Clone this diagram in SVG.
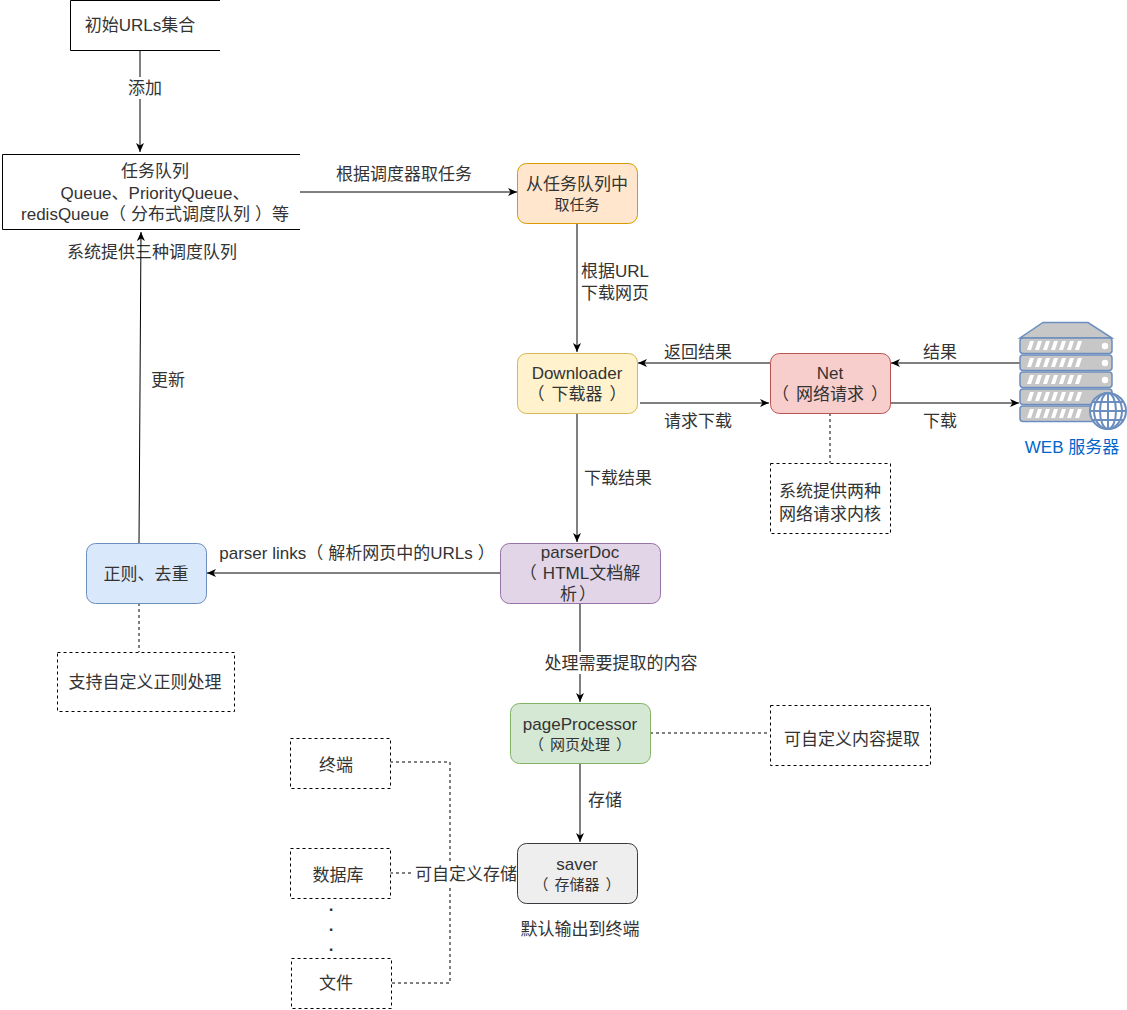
<svg xmlns="http://www.w3.org/2000/svg" width="1127" height="1010" viewBox="0 0 1127 1010">
<defs>
<marker id="arr" markerUnits="userSpaceOnUse" markerWidth="10" markerHeight="8" refX="9" refY="4" orient="auto">
<path d="M0,0 L9,4 L0,8 L2.5,4 Z" fill="#000"/>
</marker>
<style>
text{font-family:"Liberation Sans","Noto Sans CJK SC",sans-serif;font-size:17px;fill:#333;text-anchor:middle}
.sm{font-size:15px}
.ln{fill:none;stroke:#000;stroke-width:1}
.a{marker-end:url(#arr)}
.d{stroke-dasharray:3 3}
.box{stroke-width:1}
.dbox{fill:#fff;stroke:#000;stroke-width:1;stroke-dasharray:3 3}
.bg{fill:#fff}
.srv{fill:#c7c7c7;stroke:#6c8ebf;stroke-width:1.5}
.st{fill:#fff}
</style>
</defs>
<rect width="1127" height="1010" fill="#fff"/>

<g id="label-sys-queue"><text x="152" y="258">系统提供三种调度队列</text></g>

<g id="connectors">
<path class="ln a" d="M140,50 V152"/>
<path class="ln a" d="M300,192 H517"/>
<path class="ln a" d="M577,223 V352"/>
<path class="ln a" d="M770,363 H638"/>
<path class="ln a" d="M640,403 H769"/>
<path class="ln a" d="M1020,363 H891"/>
<path class="ln a" d="M890,403 H1019"/>
<path class="ln d" d="M830,413 V463"/>
<path class="ln a" d="M577,413 V542"/>
<path class="ln a" d="M500,573 H207"/>
<path class="ln a" d="M139,543 L141,232"/>
<path class="ln d" d="M139,603 V652"/>
<path class="ln a" d="M580,603 V702"/>
<path class="ln d" d="M650,733 H770"/>
<path class="ln a" d="M580,763 V842"/>
<path class="ln d" d="M390,762 H450 V983 H391"/>
<path class="ln d" d="M390,873 H517"/>
</g>

<g id="edge-labels">
<rect class="bg" x="125" y="77" width="40" height="22"/><text x="145" y="94">添加</text>
<text x="404" y="180">根据调度器取任务</text>
<text x="615" y="277">根据URL</text><text x="615" y="299">下载网页</text>
<text x="698" y="358">返回结果</text>
<text x="698" y="427">请求下载</text>
<text x="940" y="358">结果</text>
<text x="940" y="427">下载</text>
<text x="618" y="484">下载结果</text>
<text x="357" y="559">parser links（<tspan dx="5">解析网页中的URLs</tspan><tspan dx="5">）</tspan></text>
<text x="168" y="386">更新</text>
<rect class="bg" x="540" y="652" width="164" height="22"/><text x="621" y="669">处理需要提取的内容</text>
<text x="605" y="806">存储</text>
<rect class="bg" x="412" y="863" width="106" height="22"/><text x="466" y="880">可自定义存储</text>
</g>

<g id="node-init-urls">
<rect x="70" y="0" width="150" height="50" fill="#fff"/>
<path class="ln" d="M220,0.5 H70.5 V50.5 H220"/>
<text x="140" y="31">初始URLs集合</text>
</g>

<g id="node-task-queue">
<rect x="2" y="154" width="298" height="75" fill="#fff"/>
<path class="ln" d="M300,154.5 H2.5 V229.5 H300"/>
<text x="155" y="177">任务队列</text>
<text x="155" y="199">Queue、PriorityQueue、</text>
<text x="155" y="220">redisQueue（<tspan dx="5">分布式调度队列</tspan><tspan dx="5">）</tspan>等</text>
</g>

<g id="node-fetch">
<rect class="box" x="517.5" y="163.5" width="120" height="60" rx="9" fill="#ffe6cc" stroke="#d79b00"/>
<text x="577" y="190">从任务队列中</text>
<text class="sm" x="577" y="210">取任务</text>
</g>

<g id="node-downloader">
<rect class="box" x="517.5" y="353.5" width="120" height="60" rx="9" fill="#fff2cc" stroke="#d6b656"/>
<text x="577" y="379">Downloader</text>
<text x="577" y="400">（<tspan dx="7">下载器</tspan><tspan dx="7">）</tspan></text>
</g>

<g id="node-net">
<rect class="box" x="770.5" y="353.5" width="120" height="60" rx="9" fill="#f8cecc" stroke="#b85450"/>
<text x="830" y="379">Net</text>
<text x="830" y="400">（<tspan dx="7">网络请求</tspan><tspan dx="7">）</tspan></text>
</g>

<g id="node-web-server">
<polygon class="srv" points="1043,322.5 1088,322.5 1112,338 1020,338"/>
<g id="rack">
<rect class="srv" x="1020" y="338" width="92" height="15.5" rx="3"/>
<rect class="srv" x="1020" y="355" width="92" height="15.5" rx="3"/>
<rect class="srv" x="1020" y="372" width="92" height="15.5" rx="3"/>
<rect class="srv" x="1020" y="389" width="92" height="15.5" rx="3"/>
<rect class="srv" x="1020" y="406" width="92" height="15.5" rx="3"/>
</g>
<g class="st">
<path d="M1027,350 l3,-9 h4 l-3,9z M1035,350 l3,-9 h4 l-3,9z M1043,350 l3,-9 h4 l-3,9z M1051,350 l3,-9 h4 l-3,9z M1059,350 l3,-9 h4 l-3,9z M1067,350 l3,-9 h4 l-3,9z M1075,350 l3,-9 h4 l-3,9z"/>
<path d="M1027,367 l3,-9 h4 l-3,9z M1035,367 l3,-9 h4 l-3,9z M1043,367 l3,-9 h4 l-3,9z M1051,367 l3,-9 h4 l-3,9z M1059,367 l3,-9 h4 l-3,9z M1067,367 l3,-9 h4 l-3,9z M1075,367 l3,-9 h4 l-3,9z"/>
<path d="M1027,384 l3,-9 h4 l-3,9z M1035,384 l3,-9 h4 l-3,9z M1043,384 l3,-9 h4 l-3,9z M1051,384 l3,-9 h4 l-3,9z M1059,384 l3,-9 h4 l-3,9z M1067,384 l3,-9 h4 l-3,9z M1075,384 l3,-9 h4 l-3,9z"/>
<path d="M1027,401 l3,-9 h4 l-3,9z M1035,401 l3,-9 h4 l-3,9z M1043,401 l3,-9 h4 l-3,9z M1051,401 l3,-9 h4 l-3,9z M1059,401 l3,-9 h4 l-3,9z M1067,401 l3,-9 h4 l-3,9z M1075,401 l3,-9 h4 l-3,9z"/>
<path d="M1027,418 l3,-9 h4 l-3,9z M1035,418 l3,-9 h4 l-3,9z M1043,418 l3,-9 h4 l-3,9z M1051,418 l3,-9 h4 l-3,9z M1059,418 l3,-9 h4 l-3,9z M1067,418 l3,-9 h4 l-3,9z M1075,418 l3,-9 h4 l-3,9z"/>
<circle cx="1105" cy="346" r="3.2"/>
<circle cx="1105" cy="363" r="3.2"/>
<circle cx="1105" cy="380" r="3.2"/>
</g>
<g id="globe" fill="none" stroke="#6c8ebf" stroke-width="2">
<circle cx="1108" cy="411" r="18" fill="#fff"/>
<ellipse cx="1108" cy="411" rx="8" ry="18"/>
<ellipse cx="1108" cy="411" rx="14" ry="18"/>
<line x1="1108" y1="393" x2="1108" y2="429"/>
<line x1="1090" y1="411" x2="1126" y2="411"/>
<line x1="1092" y1="402" x2="1124" y2="402"/>
<line x1="1092" y1="420" x2="1124" y2="420"/>
</g>
<text x="1072" y="453" style="fill:#0066cc">WEB 服务器</text>
</g>

<g id="node-net-note">
<rect class="dbox" x="770.5" y="463.5" width="120" height="70"/>
<text x="830" y="497">系统提供两种</text>
<text x="830" y="520">网络请求内核</text>
</g>

<g id="node-parserdoc">
<rect class="box" x="500.5" y="543.5" width="160" height="60" rx="9" fill="#e1d5e7" stroke="#9673a6"/>
<text x="580" y="558">parserDoc</text>
<text x="580" y="579">（<tspan dx="6">HTML文档解</tspan></text>
<text x="578" y="600">析<tspan dx="2">）</tspan></text>
</g>

<g id="node-regex">
<rect class="box" x="86.5" y="543.5" width="120" height="60" rx="9" fill="#dae8fc" stroke="#6c8ebf"/>
<text x="146" y="580">正则、去重</text>
</g>

<g id="node-regex-note">
<rect class="dbox" x="57.5" y="652.5" width="177" height="59"/>
<text x="145" y="688">支持自定义正则处理</text>
</g>

<g id="node-pageprocessor">
<rect class="box" x="510.5" y="703.5" width="140" height="60" rx="9" fill="#d5e8d4" stroke="#82b366"/>
<text x="580" y="730">pageProcessor</text>
<text class="sm" x="580" y="750">（<tspan dx="6">网页处理</tspan><tspan dx="6">）</tspan></text>
</g>

<g id="node-content-note">
<rect class="dbox" x="770.5" y="705.5" width="160" height="60"/>
<text x="852" y="745">可自定义内容提取</text>
</g>

<g id="node-saver">
<rect class="box" x="517.5" y="843.5" width="120" height="60" rx="9" fill="#eeeeee" stroke="#36393d"/>
<text x="577" y="870">saver</text>
<text class="sm" x="577" y="890">（<tspan dx="6">存储器</tspan><tspan dx="6">）</tspan></text>
</g>

<g id="label-default"><text x="580" y="935">默认输出到终端</text></g>

<g id="node-terminal">
<rect class="dbox" x="290.5" y="738.5" width="100" height="50"/>
<text x="336" y="771">终端</text>
</g>
<g id="node-database">
<rect class="dbox" x="290.5" y="848.5" width="100" height="50"/>
<text x="338" y="881">数据库</text>
</g>
<g id="node-dots">
<text x="331" y="911" style="font-weight:bold">.</text>
<text x="331" y="931" style="font-weight:bold">.</text>
<text x="331" y="951" style="font-weight:bold">.</text>
</g>
<g id="node-file">
<rect class="dbox" x="291.5" y="958.5" width="100" height="50"/>
<text x="336" y="989">文件</text>
</g>
</svg>
